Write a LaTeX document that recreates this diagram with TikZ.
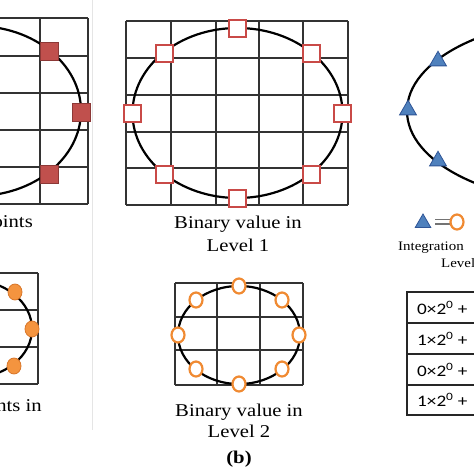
\documentclass[tikz,border=0pt]{standalone}
\usepackage{fontspec}
\setmainfont[FakeStretch=1.15]{Liberation Serif}
\newfontfamily\tabfont[FakeStretch=1.2]{Carlito}
\usetikzlibrary{shapes.geometric}
\definecolor{redfill}{HTML}{C0504D}
\definecolor{reddark}{HTML}{8C3836}
\definecolor{redline}{HTML}{C94A47}
\definecolor{orfill}{HTML}{F4943F}
\definecolor{ordark}{HTML}{D9772A}
\definecolor{orline}{HTML}{F08A32}
\definecolor{bluefill}{HTML}{4F81BD}
\definecolor{bluedark}{HTML}{2F5597}
\tikzset{
  gridline/.style={line width=1.3pt, black!80},
  curve/.style={line width=2.2pt, black},
  fsq/.style={rectangle, minimum size=18pt, inner sep=0pt, fill=redfill, draw=reddark, line width=0.9pt},
  esq/.style={rectangle, minimum size=17pt, inner sep=0pt, fill=white, draw=redline, line width=2pt},
  fdot/.style={ellipse, minimum width=14pt, minimum height=16pt, inner sep=0pt, fill=orfill, draw=ordark, line width=0.8pt},
  edot/.style={ellipse, minimum width=13pt, minimum height=15pt, inner sep=0pt, fill=white, draw=orline, line width=2.2pt},
  tri/.style={regular polygon, regular polygon sides=3, minimum size=19.5pt, inner sep=0pt, fill=bluefill, draw=bluedark, line width=0.8pt},
  captext/.style={font=\fontsize{18}{20}\selectfont, inner sep=0pt},
  smallcaptext/.style={font=\fontsize{13}{15}\selectfont, inner sep=0pt},
  tabtext/.style={font=\tabfont\fontsize{16}{18}\selectfont, inner sep=0pt, anchor=west},
  tabline/.style={line width=1.3pt, black!85}
}
\begin{document}
\begin{tikzpicture}[x=1pt,y=-1pt]
\useasboundingbox (0,0) rectangle (474,474);
\clip (0,0) rectangle (474,474);
\fill[white] (0,0) rectangle (474,474);
% faint separator
\draw[black!10, line width=0.8pt] (92.5,0) -- (92.5,430);

% ---------- top-left panel ----------
\foreach \x in {40,88} \draw[gridline] (\x,18) -- (\x,204);
\foreach \y in {18,56,93,130,167,204} \draw[gridline] (-10,\y) -- (88,\y);
\draw[curve] (-24,111) ellipse [x radius=105pt, y radius=85pt];
\node[fsq] (tl1) at (49,51) {};
\node[fsq] (tl2) at (81,112) {};
\node[fsq] (tl3) at (49,174) {};
\node[captext, anchor=east] (tlcap) at (33,223) {points};

% ---------- top-middle panel ----------
\foreach \x in {126,171,216,259,303,348} \draw[gridline] (\x,21) -- (\x,205);
\foreach \y in {21,58,95,132,168,205} \draw[gridline] (126,\y) -- (348,\y);
\draw[curve] (237.5,113) ellipse [x radius=105pt, y radius=85pt];
\node[esq] (m1) at (237.5,28) {};
\node[esq] (m2) at (311,53) {};
\node[esq] (m3) at (342.5,113) {};
\node[esq] (m4) at (311,174) {};
\node[esq] (m5) at (237.5,198) {};
\node[esq] (m6) at (164,174) {};
\node[esq] (m7) at (132.5,113) {};
\node[esq] (m8) at (164,53) {};
\node[captext] (mcap1) at (238,224) {Binary value in};
\node[captext] (mcap2) at (238,245) {Level 1};

% ---------- top-right panel ----------
\draw[curve] (587,111) ellipse [x radius=180pt, y radius=92pt];
\node[tri] (t1) at (438,61) {};
\node[tri] (t2) at (408,110) {};
\node[tri] (t3) at (438,161) {};

% legend
\node[tri, minimum size=18pt] (lt) at (423,223) {};
\coordinate (eqa1) at (435,219.5);
\coordinate (eqb1) at (451,219.5);
\coordinate (eqa2) at (435,224);
\coordinate (eqb2) at (451,224);
\draw[black!55, line width=1.2pt] (eqa1) -- (eqb1);
\draw[black!55, line width=1.2pt] (eqa2) -- (eqb2);
\node[edot] (lc) at (457,222) {};
\node[smallcaptext, anchor=west] (rcap1) at (398,248) {Integration};
\node[smallcaptext, anchor=west] (rcap2) at (441,263) {Level};

% table
\draw[tabline] (407,292) rectangle (560,415);
\foreach \y in {323,354,385} \draw[tabline] (407,\y) -- (560,\y);
\node[tabtext] (r1) at (417,308) {0×2\textsuperscript{0} +};
\node[tabtext] (r2) at (417,339) {1×2\textsuperscript{0} +};
\node[tabtext] (r3) at (417,370) {0×2\textsuperscript{0} +};
\node[tabtext] (r4) at (417,400) {1×2\textsuperscript{0} +};

% ---------- bottom-left panel ----------
\draw[gridline] (38,273) -- (38,384);
\foreach \y in {273,310,347,384} \draw[gridline] (-10,\y) -- (38,\y);
\draw[curve] (-29,329) ellipse [x radius=61pt, y radius=49pt];
\node[fdot] (bl1) at (15,292) {};
\node[fdot] (bl2) at (32,329) {};
\node[fdot] (bl3) at (14,366) {};
\node[captext, anchor=east] (blcap) at (42,407) {points in};

% ---------- bottom-middle panel ----------
\foreach \x in {175,217,260,303} \draw[gridline] (\x,283) -- (\x,385);
\foreach \y in {283,317,350,385} \draw[gridline] (175,\y) -- (303,\y);
\draw[curve] (239,335) ellipse [x radius=61pt, y radius=49pt];
\node[edot] (b1) at (239,286) {};
\node[edot] (b2) at (282,300) {};
\node[edot] (b3) at (299,335) {};
\node[edot] (b4) at (282,369) {};
\node[edot] (b5) at (239,384) {};
\node[edot] (b6) at (196,369) {};
\node[edot] (b7) at (178,335) {};
\node[edot] (b8) at (196,300) {};
\node[captext] (bcap1) at (239,412) {Binary value in};
\node[captext] (bcap2) at (239,431) {Level 2};
\node[captext, font=\bfseries\fontsize{18}{20}\selectfont] (blabel) at (239,459) {(b)};
\end{tikzpicture}
\end{document}
